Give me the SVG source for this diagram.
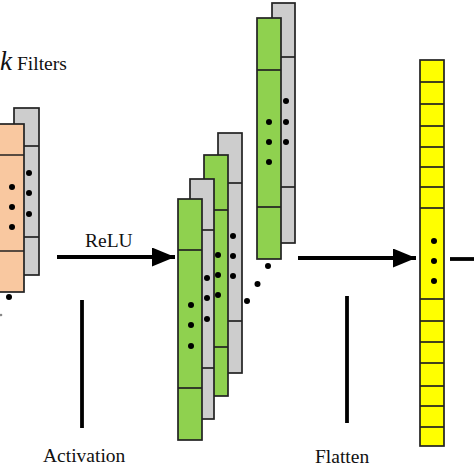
<svg xmlns="http://www.w3.org/2000/svg" width="474" height="474" viewBox="0 0 474 474">
<style>
.o{fill:#F9C8A0;stroke:#222;stroke-width:1.7}
.g{fill:#CDCDCD;stroke:#222;stroke-width:1.7}
.gr{fill:#8FD14F;stroke:#222;stroke-width:1.7}
.y{fill:#FFFF00;stroke:#222;stroke-width:1.7}
.ln{stroke:#222;stroke-width:1.7}
.c{stroke:#000;stroke-width:3.8;fill:none}
.t{font-family:"Liberation Serif",serif;font-size:19.5px;fill:#111}
.d circle{r:3}
</style>
<defs>
<marker id="ah" markerUnits="userSpaceOnUse" markerWidth="24" markerHeight="20" refX="23" refY="9.5" orient="auto">
<path d="M0,0 L23,9.5 L0,19 Z" fill="#000"/>
</marker>
</defs>
<rect width="474" height="474" fill="#fff"/>

<g id="input">
<rect class="g" x="14" y="108" width="25" height="167"/>
<line class="ln" x1="24" y1="146" x2="39" y2="146"/>
<line class="ln" x1="24" y1="237" x2="39" y2="237"/>
<rect class="o" x="-10" y="124" width="34" height="168"/>
<line class="ln" x1="-10" y1="155" x2="24" y2="155"/>
<line class="ln" x1="-10" y1="251" x2="24" y2="251"/>
<g fill="#000">
<circle cx="12" cy="187" r="3"/><circle cx="12" cy="207" r="3"/><circle cx="12" cy="227" r="3"/>
<circle cx="29" cy="173" r="3"/><circle cx="29" cy="193" r="3"/><circle cx="29" cy="214" r="3"/>
<circle cx="9" cy="297" r="3"/>
</g>
<circle cx="1" cy="315" r="1.3" fill="#888"/>
<text x="0" y="70" font-family="Liberation Serif,serif" font-style="italic" font-size="27" fill="#111">k</text>
<text class="t" x="17" y="70">Filters</text>
</g>

<g id="feature-maps">
<rect class="g" x="272" y="3" width="23" height="240"/>
<line class="ln" x1="281" y1="57" x2="295" y2="57"/>
<line class="ln" x1="281" y1="187" x2="295" y2="187"/>
<rect class="gr" x="257" y="18" width="24" height="241"/>
<line class="ln" x1="257" y1="70" x2="281" y2="70"/>
<line class="ln" x1="257" y1="207" x2="281" y2="207"/>

<rect class="g" x="218" y="133" width="24" height="240"/>
<line class="ln" x1="228" y1="183" x2="242" y2="183"/>
<line class="ln" x1="228" y1="321" x2="242" y2="321"/>
<rect class="gr" x="204" y="155" width="24" height="241"/>
<line class="ln" x1="204" y1="210" x2="228" y2="210"/>
<line class="ln" x1="204" y1="347" x2="228" y2="347"/>
<rect class="g" x="190" y="179" width="24" height="240"/>
<line class="ln" x1="202" y1="230" x2="214" y2="230"/>
<line class="ln" x1="202" y1="368" x2="214" y2="368"/>
<rect class="gr" x="178" y="199" width="24" height="241"/>
<line class="ln" x1="178" y1="250" x2="202" y2="250"/>
<line class="ln" x1="178" y1="388" x2="202" y2="388"/>
<g fill="#000">
<circle cx="269" cy="122" r="3"/><circle cx="269" cy="142" r="3"/><circle cx="269" cy="162" r="3"/>
<circle cx="286" cy="101" r="3"/><circle cx="286" cy="122" r="3"/><circle cx="286" cy="142" r="3"/>
<circle cx="233" cy="236" r="3"/><circle cx="233" cy="256" r="3"/><circle cx="233" cy="276" r="3"/>
<circle cx="218" cy="255" r="3"/><circle cx="218" cy="275" r="3"/><circle cx="218" cy="295" r="3"/>
<circle cx="207" cy="278" r="3"/><circle cx="207" cy="298" r="3"/><circle cx="207" cy="319" r="3"/>
<circle cx="191" cy="305" r="3"/><circle cx="191" cy="325" r="3"/><circle cx="191" cy="346" r="3"/>
<circle cx="247" cy="301" r="3"/><circle cx="257.5" cy="284" r="3"/><circle cx="268" cy="266" r="3"/>
</g>
</g>

<g id="flattened">
<rect class="y" x="420" y="60" width="24" height="386"/>
<g class="ln">
<line x1="420" y1="82" x2="444" y2="82"/>
<line x1="420" y1="104" x2="444" y2="104"/>
<line x1="420" y1="126" x2="444" y2="126"/>
<line x1="420" y1="147" x2="444" y2="147"/>
<line x1="420" y1="167" x2="444" y2="167"/>
<line x1="420" y1="187" x2="444" y2="187"/>
<line x1="420" y1="208" x2="444" y2="208"/>
<line x1="420" y1="299" x2="444" y2="299"/>
<line x1="420" y1="321" x2="444" y2="321"/>
<line x1="420" y1="342" x2="444" y2="342"/>
<line x1="420" y1="363" x2="444" y2="363"/>
<line x1="420" y1="386" x2="444" y2="386"/>
<line x1="420" y1="406" x2="444" y2="406"/>
<line x1="420" y1="427" x2="444" y2="427"/>
</g>
<g fill="#000">
<circle cx="434" cy="241" r="3"/><circle cx="434" cy="261" r="3"/><circle cx="434" cy="281" r="3"/>
</g>
</g>

<g id="connectors">
<line class="c" x1="57" y1="257" x2="175" y2="257" marker-end="url(#ah)"/>
<text class="t" x="85" y="247">ReLU</text>
<line class="c" x1="82" y1="300" x2="82" y2="428"/>
<text class="t" x="43" y="462">Activation</text>
<line class="c" x1="298" y1="258" x2="416" y2="258" marker-end="url(#ah)"/>
<line class="c" x1="347" y1="296" x2="347" y2="423"/>
<text class="t" x="315" y="463">Flatten</text>
<line class="c" x1="450" y1="259" x2="474" y2="259"/>
</g>
</svg>
